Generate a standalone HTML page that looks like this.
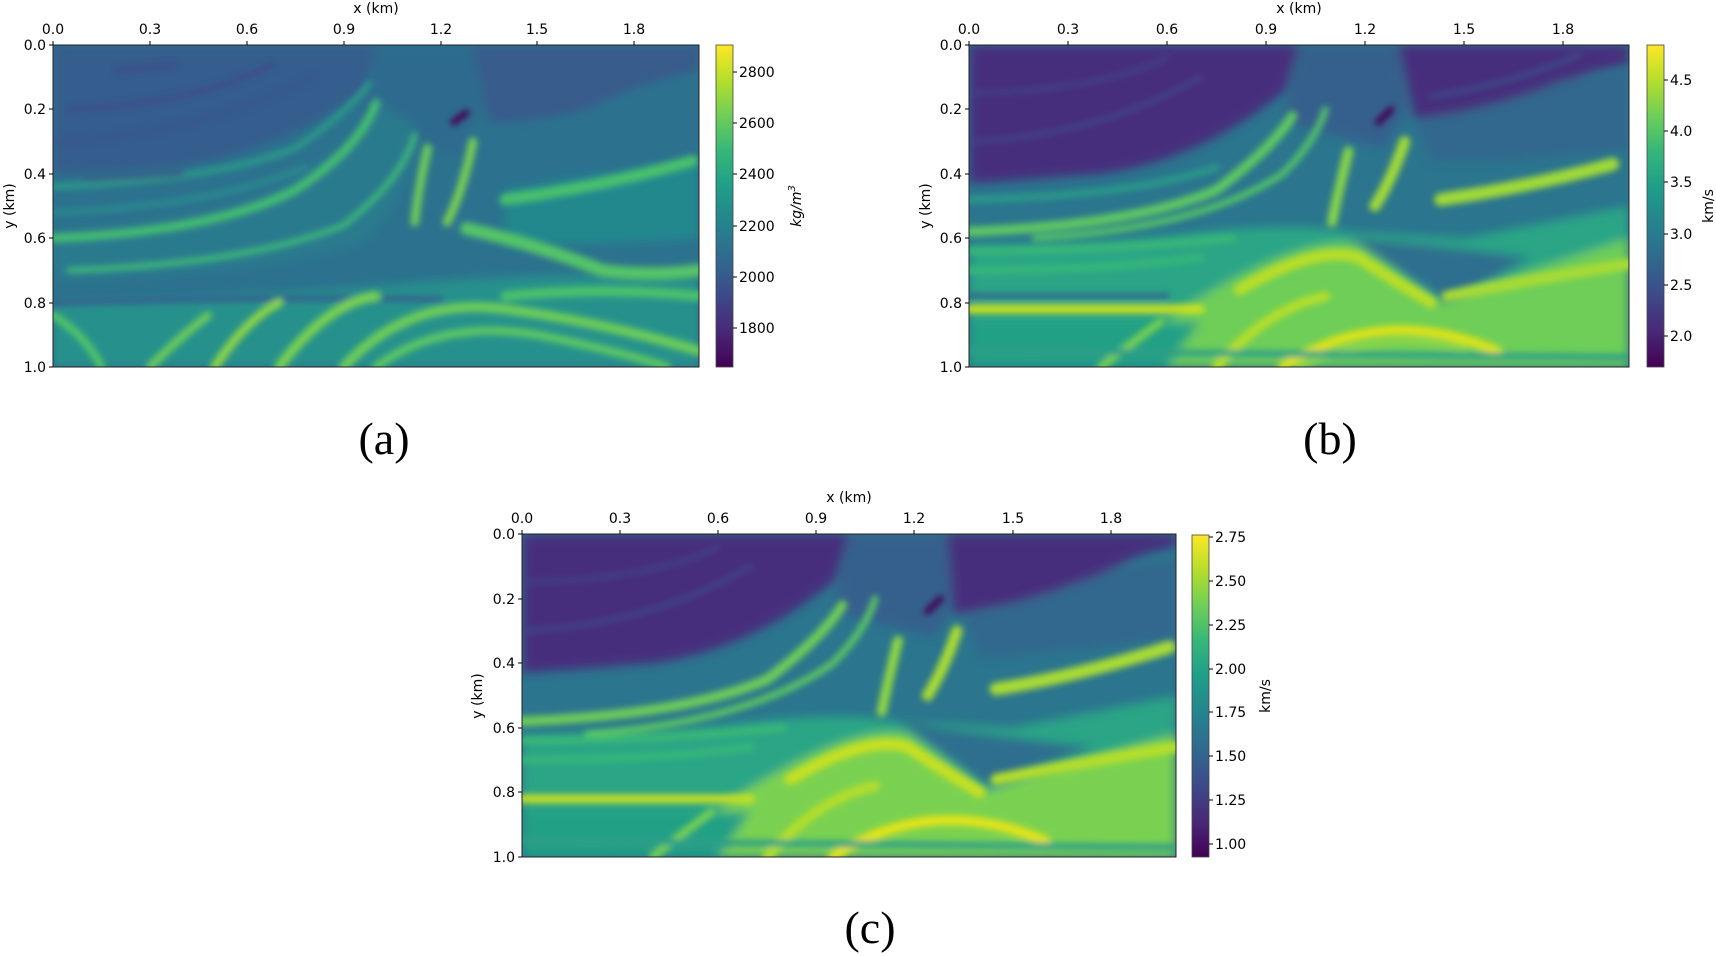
<!DOCTYPE html>
<html><head><meta charset="utf-8"><style>
html,body{margin:0;padding:0;background:#fff;}
svg{display:block;font-family:"DejaVu Sans","Liberation Sans",sans-serif;}
</style></head><body>
<svg width="1716" height="956" viewBox="0 0 1716 956" xmlns="http://www.w3.org/2000/svg">
<defs>
<linearGradient id="vir" x1="0" y1="1" x2="0" y2="0">
<stop offset="0" stop-color="#440154"/><stop offset="0.11" stop-color="#482878"/><stop offset="0.22" stop-color="#3e4989"/><stop offset="0.33" stop-color="#31688e"/><stop offset="0.44" stop-color="#26828e"/><stop offset="0.56" stop-color="#1f9e89"/><stop offset="0.67" stop-color="#35b779"/><stop offset="0.78" stop-color="#6ece58"/><stop offset="0.89" stop-color="#b5de2b"/><stop offset="1" stop-color="#fde725"/>
</linearGradient>
<filter id="bl" x="-5%" y="-5%" width="110%" height="110%"><feGaussianBlur stdDeviation="1.0"/></filter>
<filter id="bl2" x="-5%" y="-5%" width="110%" height="110%"><feGaussianBlur stdDeviation="1.6"/></filter>
<clipPath id="cp"><rect x="0" y="0" width="200" height="100"/></clipPath>
</defs>

<!-- ===== Panel A ===== -->
<g transform="translate(53,45) scale(3.23,3.22)" clip-path="url(#cp)">
<rect width="200" height="100" fill="#2c728e"/>
<g filter="url(#bl2)">
<path d="M0,0 H100 L96,14 Q70,34 35,38 Q12,40 0,40 Z" fill="#365d8d"/>
<path d="M100,0 L130,0 L133,20 L125,35 L95,22 Z" fill="#2f6a8e"/>
<path d="M130,0 L200,0 L200,8 Q180,12 165,20 Q150,24 135,24 Z" fill="#375b8c"/>
<path d="M0,58 Q40,56 70,45 Q95,30 100,18 L112,25 Q110,50 95,62 Q60,72 0,72 Z" fill="#2b7a8e"/>
<path d="M0,80 Q60,78 100,75 Q150,70 200,72 L200,100 L0,100 Z" fill="#25918c"/>
<path d="M140,45 Q170,40 200,36 L200,60 Q170,62 140,62 Z" fill="#23888e"/>
</g>
<g filter="url(#bl)" fill="none" stroke-linecap="round">
<path d="M0,60 Q50,58 75,45 Q95,32 100,18" stroke="#45bf70" stroke-width="2.6"/>
<path d="M0,44 Q50,42 75,32 Q90,22 98,12" stroke="#2a9c88" stroke-width="1.8"/>
<path d="M0,52 Q50,50 78,38" stroke="#2a8f8d" stroke-width="1.5"/>
<path d="M5,70 Q60,68 90,56 Q108,42 112,28" stroke="#3cb978" stroke-width="1.8"/>
<path d="M5,20 Q45,18 68,6" stroke="#404a89" stroke-width="1.2"/>
<path d="M0,30 Q45,28 80,10" stroke="#3a548c" stroke-width="1.2"/>
<path d="M20,8 Q30,7 38,6" stroke="#414487" stroke-width="1"/>
<path d="M10,42 Q30,41 40,40" stroke="#433e85" stroke-width="1"/>
<path d="M116,32 Q113,45 112,55" stroke="#6ece58" stroke-width="2.6"/>
<path d="M130,30 Q127,45 122,55" stroke="#7ad151" stroke-width="2.6"/>
<path d="M140,48 Q170,44 198,36" stroke="#4ac16d" stroke-width="3.5"/>
<path d="M128,57 Q150,62 170,70 Q185,72 200,70" stroke="#54c568" stroke-width="4"/>
<path d="M124,24 L128,21" stroke="#440154" stroke-width="2"/>
<path d="M0,80 Q60,78 120,79" stroke="#31658e" stroke-width="2"/>
<path d="M90,100 Q110,78 140,82 Q170,86 200,95" stroke="#6ece58" stroke-width="3"/>
<path d="M100,100 Q120,85 150,90 Q175,95 190,100" stroke="#5ec962" stroke-width="2.5"/>
<path d="M70,100 Q85,80 100,78" stroke="#7ad151" stroke-width="3"/>
<path d="M50,100 Q60,85 70,80" stroke="#8fd744" stroke-width="2.6"/>
<path d="M30,100 Q40,90 48,84" stroke="#6ece58" stroke-width="2.4"/>
<path d="M0,84 Q10,90 15,100" stroke="#52c569" stroke-width="2.4"/>
<path d="M140,78 Q170,75 200,78" stroke="#4ec36b" stroke-width="3"/>
</g>
</g>
<rect x="53" y="45" width="646" height="322" fill="none" stroke="#222" stroke-width="1"/>

<!-- ===== Panel B ===== -->
<g transform="translate(969,45) scale(3.3,3.22)" clip-path="url(#cp)">
<rect width="200" height="100" fill="#2b758e"/>
<g filter="url(#bl2)">
<path d="M0,0 H100 L96,14 Q70,36 40,40 Q15,42 0,43 Z" fill="#472f7d"/>
<path d="M100,0 L130,0 L133,20 L126,32 L95,24 Z" fill="#34608d"/>
<path d="M130,0 L200,0 L200,6 Q185,8 175,15 Q155,21 135,23 Z" fill="#472f7d"/>
<path d="M135,23 Q160,20 180,11 L200,8 L200,32 Q170,36 140,36 Z" fill="#31688e"/>
<path d="M0,62 Q40,62 70,58 Q100,55 115,58 L150,60 L200,50 L200,100 L0,100 Z" fill="#2aa586"/>
<path d="M60,85 Q100,58 118,62 Q132,72 142,80 Q170,70 200,60 L200,100 L50,100 Z" fill="#6ece58"/>
<path d="M115,60 Q140,62 170,66 L145,80 Z" fill="#2e6e8e"/>
<path d="M0,86 L70,86 L60,100 L0,100 Z" fill="#23a085"/>
</g>
<g filter="url(#bl)" fill="none" stroke-linecap="round">
<path d="M0,58 Q50,56 75,45 Q92,32 98,22" stroke="#5ec962" stroke-width="3"/>
<path d="M0,48 Q50,47 75,38" stroke="#2a9c88" stroke-width="2"/>
<path d="M20,60 Q70,57 95,40 Q105,30 108,20" stroke="#54c568" stroke-width="2"/>
<path d="M115,33 Q112,45 110,55" stroke="#86d549" stroke-width="3"/>
<path d="M132,30 Q128,42 123,50" stroke="#a0da39" stroke-width="3.4"/>
<path d="M143,48 Q170,44 195,37" stroke="#a0da39" stroke-width="4"/>
<path d="M124,24 L128,20" stroke="#440154" stroke-width="2"/>
<path d="M0,82 Q30,82 70,82" stroke="#d2e21b" stroke-width="2.6"/>
<path d="M75,100 Q90,82 108,78" stroke="#b5de2b" stroke-width="3"/>
<path d="M95,100 Q125,80 160,95" stroke="#dde318" stroke-width="3"/>
<path d="M100,100 Q125,88 150,94" stroke="#8fd744" stroke-width="1.8"/>
<path d="M82,76 Q105,62 118,66 Q130,74 140,80" stroke="#bade28" stroke-width="3.5"/>
<path d="M145,78 Q175,72 200,68" stroke="#a8db34" stroke-width="3.5"/>
<path d="M0,78 Q30,78 60,78" stroke="#31688e" stroke-width="1.8"/>
<path d="M0,70 Q40,70 70,66" stroke="#35b779" stroke-width="2.4"/>
<path d="M0,64 Q40,64 80,60" stroke="#3bbb75" stroke-width="2"/>
<path d="M40,100 Q50,92 58,86" stroke="#7ad151" stroke-width="2.4"/>
<path d="M0,95 L200,97" stroke="#2f9e88" stroke-width="2"/>
<path d="M0,30 Q40,28 70,10" stroke="#3e4a89" stroke-width="1.2"/>
<path d="M0,15 Q40,14 60,4" stroke="#3e4a89" stroke-width="1"/>
<path d="M140,16 Q165,12 185,3" stroke="#3b528b" stroke-width="1.2"/>
</g>
</g>
<rect x="969" y="45" width="660" height="322" fill="none" stroke="#222" stroke-width="1"/>

<!-- ===== Panel C ===== -->
<g transform="translate(522,534) scale(3.27,3.23)" clip-path="url(#cp)">
<rect width="200" height="100" fill="#2b758e"/>
<g filter="url(#bl2)">
<path d="M0,0 H100 L96,14 Q70,36 40,40 Q15,42 0,43 Z" fill="#472f7d"/>
<path d="M100,0 L130,0 L133,20 L126,32 L95,24 Z" fill="#34608d"/>
<path d="M130,0 L200,0 L200,4 Q185,6 175,15 Q155,21 132,25 Z" fill="#472f7d"/>
<path d="M135,25 Q160,20 180,11 L200,8 L200,32 Q170,36 140,38 Z" fill="#31688e"/>
<path d="M0,62 Q40,62 70,58 Q100,55 115,58 L150,60 L200,50 L200,100 L0,100 Z" fill="#2aa586"/>
<path d="M60,85 Q100,58 118,62 Q132,72 142,80 Q170,70 200,62 L200,100 L50,100 Z" fill="#7ad151"/>
<path d="M115,58 Q140,62 175,66 L142,78 Z" fill="#2e6e8e"/>
<path d="M0,86 L70,86 L60,100 L0,100 Z" fill="#23a085"/>
</g>
<g filter="url(#bl)" fill="none" stroke-linecap="round">
<path d="M0,58 Q50,56 75,45 Q92,32 98,22" stroke="#6ece58" stroke-width="3"/>
<path d="M20,62 Q70,58 95,40 Q105,30 108,20" stroke="#5ec962" stroke-width="2"/>
<path d="M115,33 Q112,45 110,55" stroke="#8fd744" stroke-width="3"/>
<path d="M133,30 Q129,42 124,50" stroke="#a8db34" stroke-width="3.4"/>
<path d="M145,48 Q170,44 198,35" stroke="#a8db34" stroke-width="4"/>
<path d="M124,24 L128,20" stroke="#440154" stroke-width="2"/>
<path d="M0,82 Q30,82 70,82" stroke="#c8e020" stroke-width="2.6"/>
<path d="M75,100 Q90,82 108,78" stroke="#b5de2b" stroke-width="3"/>
<path d="M95,100 Q125,80 160,95" stroke="#e5e419" stroke-width="3"/>
<path d="M82,76 Q105,62 118,66 Q130,74 140,80" stroke="#c8e020" stroke-width="3.5"/>
<path d="M145,76 Q175,70 200,66" stroke="#b5de2b" stroke-width="3.5"/>
<path d="M0,70 Q40,70 70,66" stroke="#35b779" stroke-width="2.4"/>
<path d="M0,64 Q40,64 80,60" stroke="#3bbb75" stroke-width="2"/>
<path d="M40,100 Q50,92 58,86" stroke="#7ad151" stroke-width="2.4"/>
<path d="M0,95 L200,97" stroke="#2f9e88" stroke-width="2"/>
<path d="M0,30 Q40,28 70,10" stroke="#3e4a89" stroke-width="1.2"/>
<path d="M0,15 Q40,14 60,4" stroke="#3e4a89" stroke-width="1"/>
</g>
</g>
<rect x="522" y="534" width="654" height="323" fill="none" stroke="#222" stroke-width="1"/>

<!-- colorbars -->
<rect x="716" y="45" width="17" height="322" fill="url(#vir)" stroke="#444" stroke-width="0.8"/>
<rect x="1647" y="45" width="17" height="322" fill="url(#vir)" stroke="#444" stroke-width="0.8"/>
<rect x="1192" y="535" width="17" height="322" fill="url(#vir)" stroke="#444" stroke-width="0.8"/>

<g font-size="14" fill="#000">
<g text-anchor="middle">
<text x="53" y="34">0.0</text><text x="150" y="34">0.3</text><text x="247" y="34">0.6</text><text x="344" y="34">0.9</text><text x="441" y="34">1.2</text><text x="537" y="34">1.5</text><text x="634" y="34">1.8</text>
<text x="376" y="13">x (km)</text>
<text x="969" y="34">0.0</text><text x="1068" y="34">0.3</text><text x="1167" y="34">0.6</text><text x="1266" y="34">0.9</text><text x="1365" y="34">1.2</text><text x="1464" y="34">1.5</text><text x="1563" y="34">1.8</text>
<text x="1299" y="13">x (km)</text>
<text x="522" y="523">0.0</text><text x="620" y="523">0.3</text><text x="718" y="523">0.6</text><text x="816" y="523">0.9</text><text x="914" y="523">1.2</text><text x="1013" y="523">1.5</text><text x="1111" y="523">1.8</text>
<text x="849" y="502">x (km)</text>
</g>
<g stroke="#000" stroke-width="1">
<path d="M53,45v-4M150,45v-4M247,45v-4M344,45v-4M441,45v-4M537,45v-4M634,45v-4"/>
<path d="M969,45v-4M1068,45v-4M1167,45v-4M1266,45v-4M1365,45v-4M1464,45v-4M1563,45v-4"/>
<path d="M522,534v-4M620,534v-4M718,534v-4M816,534v-4M914,534v-4M1013,534v-4M1111,534v-4"/>
<path d="M53,45h-4M53,109h-4M53,174h-4M53,238h-4M53,303h-4M53,367h-4"/>
<path d="M969,45h-4M969,109h-4M969,174h-4M969,238h-4M969,303h-4M969,367h-4"/>
<path d="M522,534h-4M522,599h-4M522,663h-4M522,728h-4M522,792h-4M522,857h-4"/>
<path d="M733,72h4M733,123h4M733,174h4M733,226h4M733,277h4M733,328h4"/>
<path d="M1664,80h4M1664,131h4M1664,182h4M1664,234h4M1664,285h4M1664,336h4"/>
<path d="M1209,537h4M1209,581h4M1209,625h4M1209,669h4M1209,712h4M1209,756h4M1209,800h4M1209,844h4"/>
</g>
<g text-anchor="end">
<text x="46" y="50">0.0</text><text x="46" y="114">0.2</text><text x="46" y="179">0.4</text><text x="46" y="243">0.6</text><text x="46" y="308">0.8</text><text x="46" y="372">1.0</text>
<text x="962" y="50">0.0</text><text x="962" y="114">0.2</text><text x="962" y="179">0.4</text><text x="962" y="243">0.6</text><text x="962" y="308">0.8</text><text x="962" y="372">1.0</text>
<text x="515" y="539">0.0</text><text x="515" y="604">0.2</text><text x="515" y="668">0.4</text><text x="515" y="733">0.6</text><text x="515" y="797">0.8</text><text x="515" y="862">1.0</text>
</g>
<text transform="translate(14,206) rotate(-90)" text-anchor="middle">y (km)</text>
<text transform="translate(930,206) rotate(-90)" text-anchor="middle">y (km)</text>
<text transform="translate(482,696) rotate(-90)" text-anchor="middle">y (km)</text>
<g>
<text x="739" y="77">2800</text><text x="739" y="128">2600</text><text x="739" y="179">2400</text><text x="739" y="231">2200</text><text x="739" y="282">2000</text><text x="739" y="333">1800</text>
<text x="1670" y="85">4.5</text><text x="1670" y="136">4.0</text><text x="1670" y="187">3.5</text><text x="1670" y="239">3.0</text><text x="1670" y="290">2.5</text><text x="1670" y="341">2.0</text>
<text x="1215" y="542">2.75</text><text x="1215" y="586">2.50</text><text x="1215" y="630">2.25</text><text x="1215" y="674">2.00</text><text x="1215" y="717">1.75</text><text x="1215" y="761">1.50</text><text x="1215" y="805">1.25</text><text x="1215" y="849">1.00</text>
</g>
<text transform="translate(801,206) rotate(-90)" text-anchor="middle" font-style="italic">kg/m<tspan dy="-6" font-size="10">3</tspan></text>
<text transform="translate(1713,206) rotate(-90)" text-anchor="middle">km/s</text>
<text transform="translate(1270,696) rotate(-90)" text-anchor="middle">km/s</text>
</g>
<g font-family="'Liberation Serif','DejaVu Serif',serif" font-size="46" text-anchor="middle" fill="#000">
<text x="384" y="454">(a)</text>
<text x="1330" y="454">(b)</text>
<text x="870" y="943">(c)</text>
</g>
</svg>
</body></html>
